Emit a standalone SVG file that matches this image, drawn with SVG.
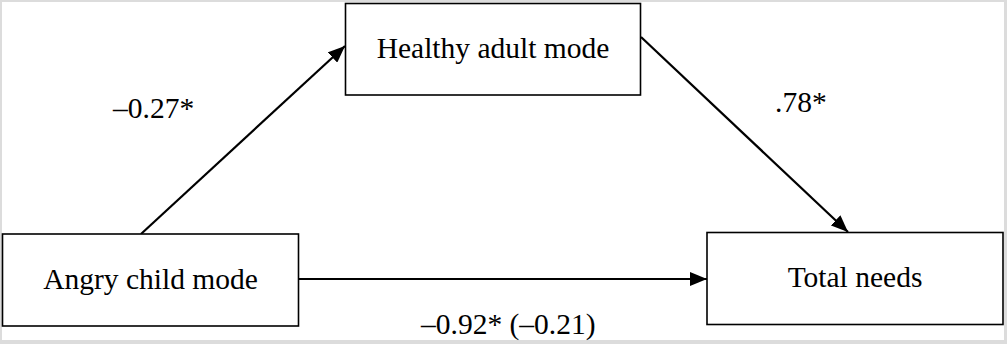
<svg xmlns="http://www.w3.org/2000/svg" width="1007" height="344" viewBox="0 0 1007 344">
<style>
.box{fill:#fff;stroke:#000;stroke-width:1.6}
.lbl{font-family:"Liberation Serif","Times New Roman",serif;font-size:29.5px;fill:#000}
.edge{stroke:#000;stroke-width:2.2;fill:none}
</style>
<defs>
<marker id="ah" markerWidth="17" markerHeight="14" refX="17" refY="7" orient="auto" markerUnits="userSpaceOnUse">
<path d="M0,0 L17,7 L0,14 Z" fill="#000"/>
</marker>
</defs>
<rect x="0" y="0" width="1007" height="344" fill="#dcdcdc"/>
<rect x="2" y="2" width="1002" height="338" fill="#fff"/>
<g id="connectors">
<line class="edge" x1="141" y1="234" x2="345" y2="46" marker-end="url(#ah)"/>
<line class="edge" x1="641" y1="37" x2="848" y2="232" marker-end="url(#ah)"/>
<line class="edge" x1="298" y1="279" x2="707" y2="279" marker-end="url(#ah)"/>
<text class="lbl" x="113" y="118">–0.27*</text>
<text class="lbl" x="775" y="112">.78*</text>
<text class="lbl" x="421" y="334">–0.92* (–0.21)</text>
</g>
<g id="healthy">
<rect class="box" x="345.5" y="3.5" width="295" height="91.5"/>
<text class="lbl" x="493" y="58" text-anchor="middle">Healthy adult mode</text>
</g>
<g id="angry">
<rect class="box" x="2.5" y="234" width="296" height="92"/>
<text class="lbl" x="150.5" y="289" text-anchor="middle">Angry child mode</text>
</g>
<g id="total">
<rect class="box" x="707" y="232.5" width="296" height="92"/>
<text class="lbl" x="855" y="287" text-anchor="middle">Total needs</text>
</g>
</svg>
